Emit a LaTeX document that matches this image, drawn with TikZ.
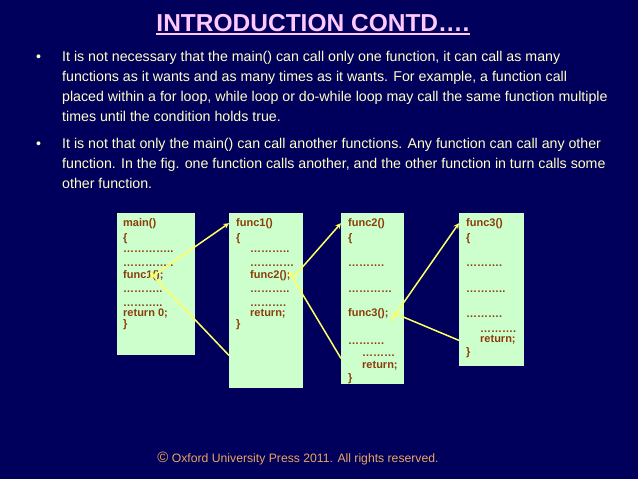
\documentclass[tikz,border=0pt]{standalone}
\usepackage{fontspec}
\setmainfont{Liberation Sans}
\begin{document}
\begin{tikzpicture}[x=1pt,y=-1pt,
  body/.style={anchor=base west,inner sep=0pt,text=bodyc,font=\fontsize{14.2}{16}\selectfont},
  fbox/.style={draw=none,fill=boxc,anchor=north west,inner sep=0pt},
  code/.style={anchor=base west,inner sep=0pt,text=codec,font=\bfseries\fontsize{11}{12}\selectfont},
  arr/.style={draw=arrc,line width=1.5pt,-stealth}]
\definecolor{bg}{RGB}{0,0,92}
\definecolor{bodyc}{RGB}{255,255,200}
\definecolor{titc}{RGB}{255,200,255}
\definecolor{boxc}{RGB}{204,255,204}
\definecolor{codec}{RGB}{140,60,10}
\definecolor{arrc}{RGB}{255,255,100}
\definecolor{footc}{RGB}{235,165,95}
\fill[bg] (0,0) rectangle (638,479);
\useasboundingbox (0,0) rectangle (638,479);
\node[anchor=base,inner sep=0pt,text=titc,font=\bfseries\fontsize{24.5}{26}\selectfont] (title) at (313,31) {INTRODUCTION CONTD….};
\draw[titc,line width=2pt] ([yshift=-3pt]title.base west) -- ([yshift=-3pt]title.base east);
\node[body] (b1) at (36,61) {•};
\node[body] (l1) at (62,61) {It is not necessary that the main() can call only one function, it can call as many};
\node[body] (l2) at (62,81) {functions as it wants and as many times as it wants. For example, a function call};
\node[body] (l3) at (62,101) {placed within a for loop, while loop or do-while loop may call the same function multiple};
\node[body] (l4) at (62,121) {times until the condition holds true.};
\node[body] (b2) at (36,148) {•};
\node[body] (l5) at (62,148) {It is not that only the main() can call another functions. Any function can call any other};
\node[body] (l6) at (62,168) {function. In the fig. one function calls another, and the other function in turn calls some};
\node[body] (l7) at (62,188) {other function.};
% boxes
\node[fbox,minimum width=78pt,minimum height=142pt] (m) at (117,213) {};
\node[fbox,minimum width=74pt,minimum height=175pt] (f1) at (229,213) {};
\node[fbox,minimum width=63pt,minimum height=171pt] (f2) at (341,213) {};
\node[fbox,minimum width=65pt,minimum height=153pt] (f3) at (459,213) {};
% main
\node[code] (m1) at (123,226) {main()};
\node[code] (m2) at (123,241) {\{};
\node[code] (m3) at (123,252) {…………..};
\node[code] (m4) at (123,266) {…………..};
\node[code] (m5) at (123,278) {func1();};
\node[code] (m6) at (123,292) {………..};
\node[code] (m7) at (123,306) {………..};
\node[code] (m8) at (123,316) {return 0;};
\node[code] (m9) at (123,327) {\}};
% func1
\node[code] (a1) at (236,226) {func1()};
\node[code] (a2) at (236,241) {\{};
\node[code] (a3) at (250,252) {………..};
\node[code] (a4) at (250,266) {…………};
\node[code] (a5) at (250,278) {func2();};
\node[code] (a6) at (250,292) {………..};
\node[code] (a7) at (250,306) {……….};
\node[code] (a8) at (250,316) {return;};
\node[code] (a9) at (236,327) {\}};
% func2
\node[code] (c1) at (348,226) {func2()};
\node[code] (c2) at (348,241) {\{};
\node[code] (c3) at (348,266) {……….};
\node[code] (c4) at (348,292) {…………};
\node[code] (c5) at (348,316) {func3();};
\node[code] (c6) at (348,344) {……….};
\node[code] (c7) at (362,356) {………};
\node[code] (c8) at (362,368) {return;};
\node[code] (c9) at (348,381) {\}};
% func3
\node[code] (d1) at (466,226) {func3()};
\node[code] (d2) at (466,241) {\{};
\node[code] (d3) at (466,266) {……….};
\node[code] (d4) at (466,292) {………..};
\node[code] (d5) at (466,317) {……….};
\node[code] (d6) at (480,332) {……….};
\node[code] (d7) at (480,342) {return;};
\node[code] (d8) at (466,355) {\}};
% arrows
\draw[arr] ([xshift=-14pt,yshift=-3pt]m5.east) -- (f1.north west |- a1.west);
\draw[arr] ([yshift=33pt]f1.south west) -- ([xshift=-14pt,yshift=3pt]m5.east);
\draw[arr] ([xshift=2pt,yshift=-3pt]a5.east) -- (f2.north west |- c1.west);
\draw[arr] ([yshift=26pt]f2.south west) -- ([xshift=-2pt,yshift=4pt]a5.east);
\draw[arr] ([xshift=2pt,yshift=-8pt]c5.east) -- (f3.north west |- d1.west);
\draw[arr] ([yshift=26pt]f3.south west) -- ([xshift=3pt,yshift=1pt]c5.east);
\node[anchor=base,inner sep=0pt,text=footc,font=\fontsize{12.2}{14}\selectfont] (foot) at (298,462) {\fontsize{15}{15}\selectfont©\fontsize{12.2}{14}\selectfont\ Oxford University Press 2011. All rights reserved.};
\end{tikzpicture}
\end{document}
